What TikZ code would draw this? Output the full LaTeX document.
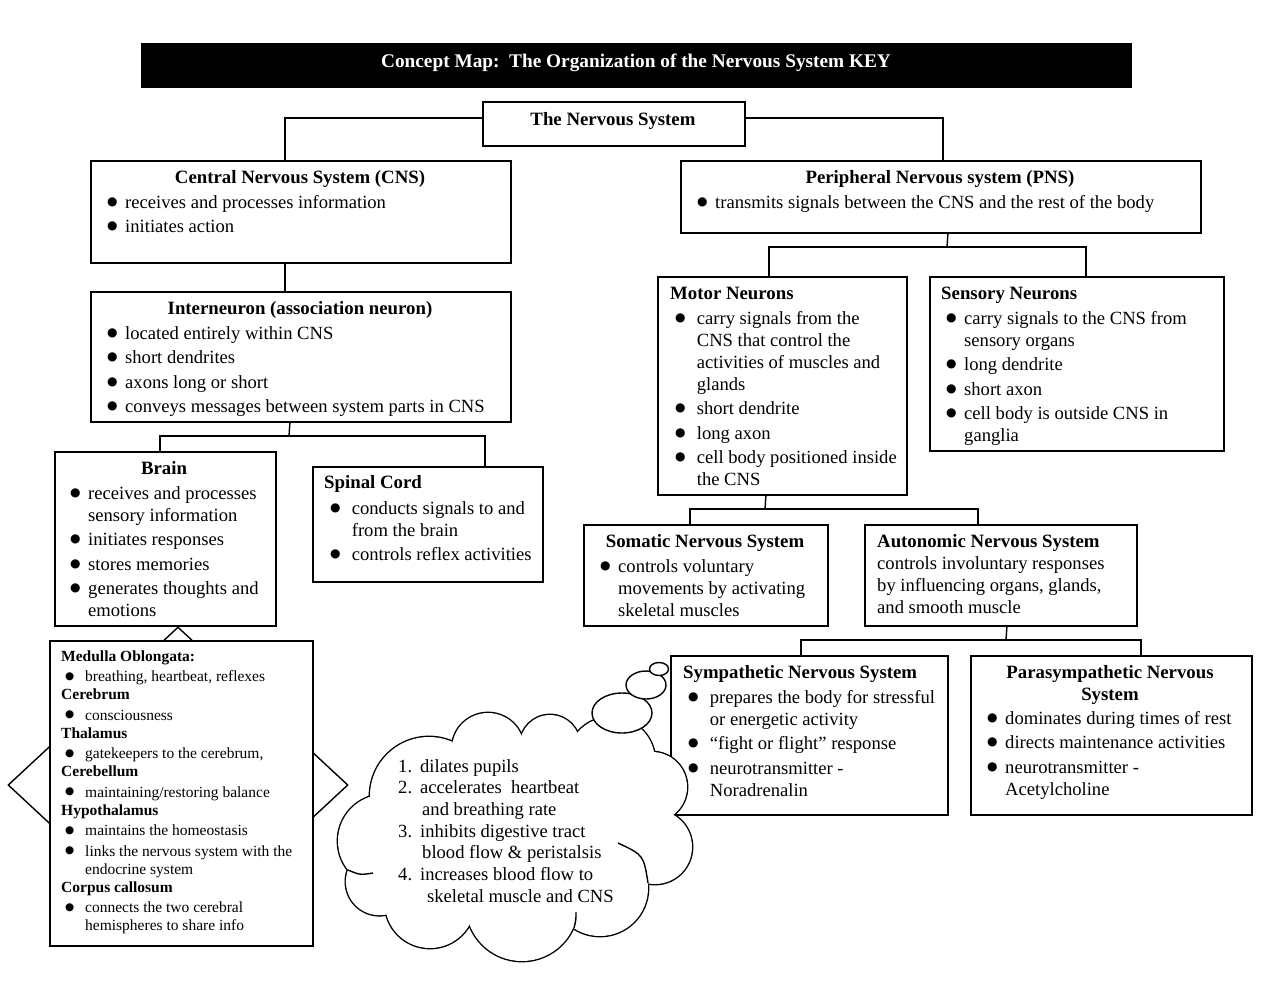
\documentclass[tikz,border=0pt]{standalone}
\usepackage{fontspec}
\setmainfont{Liberation Serif}
\newfontfamily\dejavu{DejaVu Sans}
\usetikzlibrary{shapes.geometric}
\newcommand{\vl}[2][22pt]{\vtop{\baselineskip=#1\lineskiplimit=-30pt\lineskip=0pt\halign{##\hfil\cr#2\crcr}}}
\newcommand{\vc}[2][22pt]{\vtop{\baselineskip=#1\lineskiplimit=-30pt\lineskip=0pt\halign{\hfil##\hfil\cr#2\crcr}}}
\newcommand{\gp}{\noalign{\vskip2.5pt}}
\newcommand{\bdot}{\raisebox{2.6pt}{\dejavu\fontsize{12}{12}\selectfont ●}}
\newcommand{\sdot}{\raisebox{2.1pt}{\dejavu\fontsize{10.5}{10.5}\selectfont ●}}
\newcommand{\bu}[1][18pt]{\makebox[#1][l]{\bdot}}
\newcommand{\ct}[1][18pt]{\hspace*{#1}}
\newcommand{\sbu}{\hspace*{4pt}\makebox[20pt][l]{\sdot}}
\newcommand{\sct}{\hspace*{24pt}}
\newcommand{\nm}[1]{\makebox[22pt][l]{#1}}
\begin{document}
\begin{tikzpicture}[x=1pt,y=-1pt,
  box/.style={draw, line width=1.8pt, fill=white, inner sep=0pt, anchor=north west},
  tx/.style={anchor=base west, inner sep=0pt, font=\fontsize{18.6}{22}\selectfont},
  stx/.style={anchor=base west, inner sep=0pt, font=\fontsize{15.5}{18}\selectfont},
  hd/.style={anchor=base, inner sep=0pt, font=\fontsize{18.8}{22}\selectfont\bfseries},
  hdl/.style={anchor=base west, inner sep=0pt, font=\fontsize{18.8}{22}\selectfont\bfseries},
  ln/.style={line width=1.4pt}]
\useasboundingbox (0,0) rectangle (1280,989);
\fill[white] (0,0) rectangle (1280,989);

% title
\node[fill=black, minimum width=991, minimum height=45, anchor=north west, inner sep=0pt] (title) at (141,43) {};
\node[hd, text=white, font=\fontsize{19.3}{22}\selectfont\bfseries] (titleT) at (636,67) {Concept Map:\ \ The Organization of the Nervous System KEY};

\coordinate (j1) at (289,436);
\coordinate (j2) at (947,247);
\coordinate (j3) at (765,509);
\coordinate (j4) at (1006,640);

% boxes
\node[box, minimum width=262, minimum height=44] (ns) at (482,101) {};
\node[hd] (nsT) at (613,125) {The Nervous System};

\node[box, minimum width=420, minimum height=102] (cns) at (90,160) {};
\node[hd] (cnsH) at (300,183) {Central Nervous System (CNS)};
\node[tx] (cnsL) at (107,208) {\vl{\bu receives and processes information\cr\gp \bu initiates action}};

\node[box, minimum width=420, minimum height=130] (inter) at (90,291) {};
\node[hd] (interH) at (300,314) {Interneuron (association neuron)};
\node[tx] (interL) at (107,339) {\vl{\bu located entirely within CNS\cr\gp \bu short dendrites\cr\gp \bu axons long or short\cr\gp \bu conveys messages between system parts in CNS}};

\node[box, minimum width=221, minimum height=174] (brain) at (54,451) {};
\node[hd] (brainH) at (164,474) {Brain};
\node[tx] (brainL) at (70,499) {\vl{\bu receives and processes\cr \ct sensory information\cr\gp \bu initiates responses\cr\gp \bu stores memories\cr\gp \bu generates thoughts and\cr \ct emotions}};

\node[box, minimum width=230, minimum height=115] (spinal) at (312,466) {};
\node[hdl] (spinalH) at (324,488) {Spinal Cord};
\node[tx] (spinalL) at (330,514) {\vl{\bu[17pt] conducts signals to and\cr \ct[17pt] from the brain\cr\gp \bu[17pt] controls reflex activities}};

% brain structures
\node[draw, diamond, line width=1.4pt, minimum width=340, minimum height=316, inner sep=0pt] (dia) at (178,785) {};
\node[box, minimum width=263, minimum height=305] (med) at (49,640) {};
\node[stx] (medL) at (61,661) {\vl[18pt]{\textbf{Medulla Oblongata:}\cr\gp \sbu breathing, heartbeat, reflexes\cr \textbf{Cerebrum}\cr\gp \sbu consciousness\cr \textbf{Thalamus}\cr\gp \sbu gatekeepers to the cerebrum,\cr \textbf{Cerebellum}\cr\gp \sbu maintaining/restoring balance\cr \textbf{Hypothalamus}\cr\gp \sbu maintains the homeostasis\cr\gp \sbu links the nervous system with the\cr \sct endocrine system\cr \textbf{Corpus callosum}\cr\gp \sbu connects the two cerebral\cr \sct hemispheres to share info}};

% PNS
\node[box, minimum width=520, minimum height=72] (pns) at (680,160) {};
\node[hd] (pnsH) at (940,183) {Peripheral Nervous system (PNS)};
\node[tx] (pnsL) at (697,208) {\vl{\bu transmits signals between the CNS and the rest of the body}};

\node[box, minimum width=249, minimum height=218] (motor) at (657,276) {};
\node[hdl] (motorH) at (670,299) {Motor Neurons};
\node[tx] (motorL) at (675,324) {\vl{\bu[17pt] carry signals from the\cr \ct[17pt] CNS that control the\cr \ct[17pt] activities of muscles and\cr \ct[17pt] glands\cr\gp \bu[17pt] short dendrite\cr\gp \bu[17pt] long axon\cr\gp \bu[17pt] cell body positioned inside\cr \ct[17pt] the CNS}};

\node[box, minimum width=294, minimum height=174] (sensory) at (929,276) {};
\node[hdl] (sensoryH) at (941,299) {Sensory Neurons};
\node[tx] (sensoryL) at (946,324) {\vl{\bu carry signals to the CNS from\cr \ct sensory organs\cr\gp \bu long dendrite\cr\gp \bu short axon\cr\gp \bu cell body is outside CNS in\cr \ct ganglia}};

\node[box, minimum width=244, minimum height=101] (somatic) at (583,524) {};
\node[hd] (somaticH) at (705,547) {Somatic Nervous System};
\node[tx] (somaticL) at (600,572) {\vl{\bu controls voluntary\cr \ct movements by activating\cr \ct skeletal muscles}};

\node[box, minimum width=272, minimum height=101] (auto) at (864,524) {};
\node[hdl] (autoH) at (877,547) {Autonomic Nervous System};
\node[tx] (autoL) at (877,569) {\vl{controls involuntary responses\cr by influencing organs, glands,\cr and smooth muscle}};

\node[box, minimum width=277, minimum height=159] (symp) at (670,655) {};
\node[box, minimum width=281, minimum height=159] (para) at (970,655) {};
\node[hd] (paraH) at (1110,678) {\vc{Parasympathetic Nervous\cr System}};
\node[tx] (paraL) at (987,724) {\vl{\bu dominates during times of rest\cr\gp \bu directs maintenance activities\cr\gp \bu neurotransmitter -\cr \ct Acetylcholine}};

% connectors
\draw[ln] ([yshift=6pt]ns.west) -| ([xshift=-16pt]cns.north);
\draw[ln] ([yshift=6pt]ns.east) -| ([xshift=2pt]pns.north);
\draw[ln] ([xshift=-16pt]cns.south) -- ([xshift=-16pt]inter.north);
\draw[ln] ([xshift=-11pt]inter.south) -- (j1);
\draw[ln] ([xshift=-5.5pt]brain.north) |- (j1) -| ([xshift=57pt]spinal.north);
\draw[ln] ([xshift=7pt]pns.south) -- (j2);
\draw[ln] ([xshift=-13.5pt]motor.north) |- (j2) -| ([xshift=9pt]sensory.north);
\draw[ln] ([xshift=-16.5pt]motor.south) -- (j3);
\draw[ln] ([xshift=-16pt]somatic.north) |- (j3) -| ([xshift=-23pt]auto.north);
\draw[ln] ([xshift=6pt]auto.south) -- (j4);
\draw[ln] ([xshift=-8.5pt]symp.north) |- (j4) -| ([xshift=29.5pt]para.north);

% cloud
\foreach \cx/\cy/\r in {384.6/841/46.6, 429/796/59, 488/749/36, 550/745/30, 611/761/44, 652/787/35, 655/847/37, 600/888/48, 522/905/56, 430/903/45, 379.5/881.6/33.6}
  \draw[line width=2.8pt] (\cx,\cy) circle[radius=\r];
\foreach \cx/\cy/\r in {384.6/841/46.6, 429/796/59, 488/749/36, 550/745/30, 611/761/44, 652/787/35, 655/847/37, 600/888/48, 522/905/56, 430/903/45, 379.5/881.6/33.6}
  \fill[white] (\cx,\cy) circle[radius=\r];
\fill[white] (384.5,800.8) -- (461,749.5) -- (521.3,745) -- (571.7,743.2) -- (641,761.2) -- (654.5,817.9) -- (634.7,878.2) -- (568.1,918.7) -- (474.5,917.8) -- (399.8,905.2) -- (364.7,866.5) -- cycle;
\draw[ln] (648,883) .. controls (643.6,855) .. (618,843);
\draw[ln] (574,928) .. controls (576,920) .. (576,912);
\draw[ln] (348,870) .. controls (360,875) .. (373,873);
\draw[ln, fill=white] (622,713) ellipse [x radius=30, y radius=20];
\draw[ln, fill=white] (646,685) ellipse [x radius=20, y radius=14];
\draw[ln, fill=white] (659,669) ellipse [x radius=9.5, y radius=6.5];
\node[tx] (cloudT) at (398,772) {\vl[21.7pt]{\nm{1.}dilates pupils\cr \nm{2.}accelerates\ \ heartbeat\cr \hspace*{24pt}and breathing rate\cr \nm{3.}inhibits digestive tract\cr \hspace*{24pt}blood flow \& peristalsis\cr \nm{4.}increases blood flow to\cr \hspace*{29pt}skeletal muscle and CNS}};

% sympathetic text on top
\node[hdl] (sympH) at (683,678) {Sympathetic Nervous System};
\node[tx] (sympL) at (688,703) {\vl{\bu[17pt] prepares the body for stressful\cr \ct[17pt] or energetic activity\cr\gp \bu[17pt] “fight or flight” response\cr\gp \bu[17pt] neurotransmitter -\cr \ct[17pt] Noradrenalin}};
\end{tikzpicture}
\end{document}
